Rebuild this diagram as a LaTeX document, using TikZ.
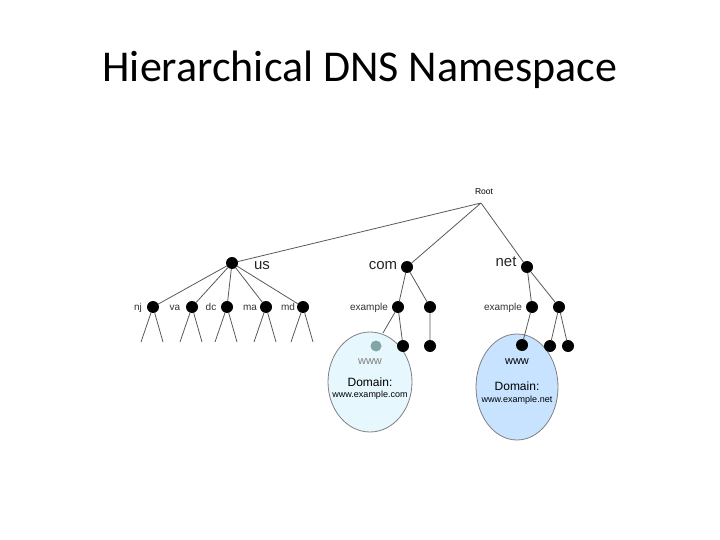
\documentclass[tikz,border=0pt]{standalone}
\usepackage{fontspec}
\setmainfont{Liberation Sans}
\newfontfamily\titlefont{Carlito}
\begin{document}
\begin{tikzpicture}[x=1pt,y=-1pt,
  dot/.style={circle,fill=black,inner sep=0pt,minimum size=12pt},
  edge/.style={draw=gray!70!black,line width=0.8pt},
  lbl/.style={font=\fontsize{10}{11}\selectfont,text=black!80,anchor=base,inner sep=0pt},
  big/.style={font=\fontsize{15}{16}\selectfont,text=black!85}]
\useasboundingbox (0,0) rectangle (720,540);
\node[font=\titlefont\fontsize{44}{48}\selectfont] (title) at (360,70) {Hierarchical DNS Namespace};
% ellipses
\draw[gray,fill=cyan!10!white,line width=0.8pt] (370,382) ellipse (42 and 50);
\draw[gray,fill=blue!50!cyan!22!white,line width=0.8pt] (517,387) ellipse (41 and 53);
\coordinate (root) at (481,203);
\node[font=\fontsize{8.5}{9}\selectfont] (rootl) at (484,192) {Root};
\node[dot] (us) at (232,263) {};
\node[dot] (com) at (407,267) {};
\node[dot] (net) at (527,267) {};
\node[big] at (262,266) {us};
\node[big] at (383,266) {com};
\node[big] at (506,262) {net};
\draw[edge] (root)--(us) (root)--(com) (root)--(net);
\foreach \n/\x/\lx/\t in {nj/153/138/nj,va/192/175/va,dc/227/211/dc,ma/266/250/ma,md/303/288/md}{
  \node[dot] (\n) at (\x,307) {};
  \node[lbl] at (\lx,310) {\t};
  \coordinate (\n L) at (\x-12,342);
  \coordinate (\n R) at (\x+10,342);
  \draw[edge] (us)--(\n);
  \draw[edge] (\n)--(\n L) (\n)--(\n R);
}
\node[dot] (cex) at (398,307) {};
\node[lbl] at (369,310) {example};
\node[dot] (co2) at (430,307) {};
\node[dot] (ca) at (403,346) {};
\node[dot] (cb) at (430,346) {};
\node[circle,fill=gray!60!teal!70,inner sep=0pt,minimum size=11pt] (cwww) at (376,346) {};
\coordinate (cwedge) at (383,333);
\draw[edge] (com)--(cex) (com)--(co2) (cex)--(ca) (co2)--(cb) (cex)--(cwedge);
\node[dot] (nex) at (532,307) {};
\node[lbl] at (503,310) {example};
\node[dot] (no2) at (559,307) {};
\node[dot] (nw) at (522,345) {};
\node[dot] (na) at (550,346) {};
\node[dot] (nb) at (568,346) {};
\draw[edge] (net)--(nex) (net)--(no2) (nex)--(nw) (no2)--(na) (no2)--(nb);
% texts
\node[font=\fontsize{11}{12}\selectfont,text=gray] at (370,362) {www};
\node[font=\fontsize{12}{13}\selectfont] at (370,382) {Domain:};
\node[font=\fontsize{9}{10}\selectfont] at (370,395) {www.example.com};
\node[font=\fontsize{11}{12}\selectfont] at (517,362) {www};
\node[font=\fontsize{12}{13}\selectfont] at (517,386) {Domain:};
\node[font=\fontsize{9}{10}\selectfont] at (517,400) {www.example.net};
\end{tikzpicture}
\end{document}
